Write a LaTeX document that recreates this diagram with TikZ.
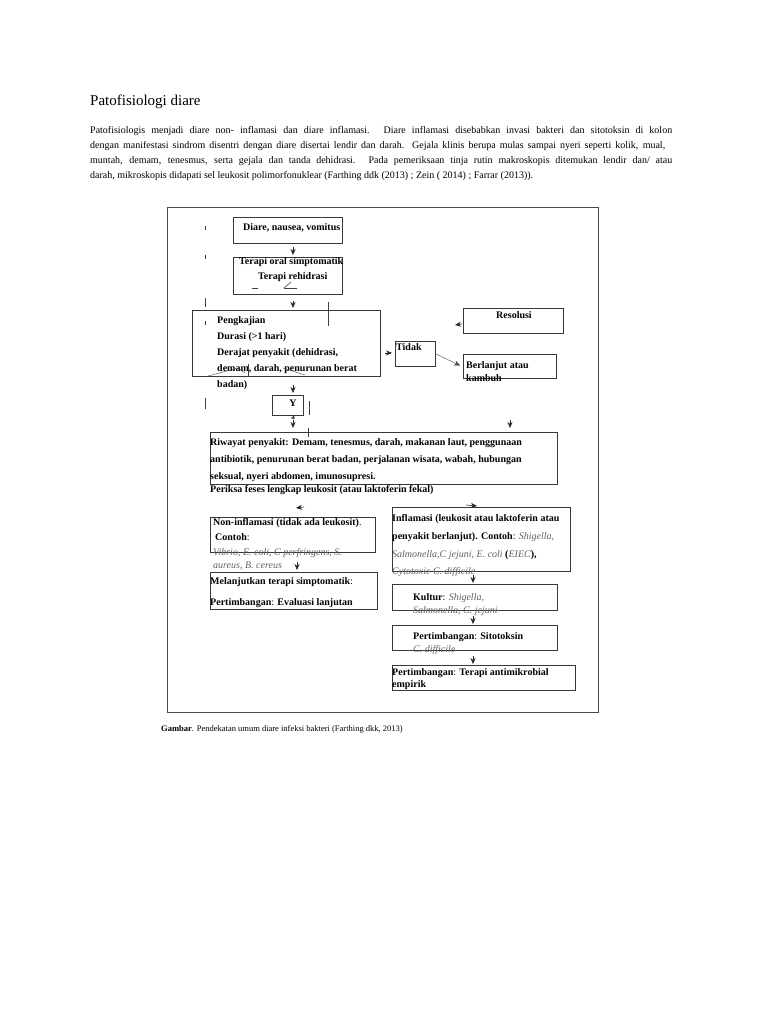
\documentclass[tikz,border=0pt]{standalone}
\usepackage{fontspec}
\setmainfont{Liberation Serif}
\usetikzlibrary{calc,arrows.meta}
\newcommand{\gi}[1]{{\color{black!62}\mdseries\itshape #1}}
\newcommand{\rg}[1]{{\mdseries #1}}
\tikzset{
  box/.style={draw=black!78, line width=0.9pt, inner sep=0pt, anchor=north west, fill=none},
  tx/.style={anchor=west, inner sep=0pt, font=\fontsize{10}{12}\selectfont\bfseries},
  ptx/.style={anchor=west, inner sep=0pt, font=\fontsize{10}{12}\selectfont},
  arr/.style={-{Stealth[length=6pt,width=5pt]}, line width=0.6pt, draw=black!85},
  thin/.style={line width=0.6pt, draw=black!75},
  frame/.style={draw=black!70, line width=0.8pt}
}
\begin{document}
\begin{tikzpicture}[x=1pt,y=-1pt]
\useasboundingbox[fill=white] (0,0) rectangle (768,1024);

% header and paragraph
\node[anchor=west, inner sep=0pt, font=\fontsize{15}{17}\selectfont] (title) at (90,102) {Patofisiologi diare};
\node[ptx] (p1) at (90,131) {\makebox[582pt][s]{Patofisiologis menjadi diare non- inflamasi dan diare inflamasi. Diare inflamasi disebabkan invasi bakteri dan sitotoksin di kolon}};
\node[ptx] (p2) at (90,146) {\makebox[575pt][s]{dengan manifestasi sindrom disentri dengan diare disertai lendir dan darah. Gejala klinis berupa mulas sampai nyeri seperti kolik, mual,}};
\node[ptx] (p3) at (90,161) {\makebox[582pt][s]{muntah, demam, tenesmus, serta gejala dan tanda dehidrasi. Pada pemeriksaan tinja rutin makroskopis ditemukan lendir dan/ atau}};
\node[ptx] (p4) at (90,176) {darah, mikroskopis didapati sel leukosit polimorfonuklear (Farthing ddk (2013) ; Zein ( 2014) ; Farrar (2013)).};

% frame
\node[frame, inner sep=0pt, anchor=north west, minimum width=431pt, minimum height=505pt] (frm) at (167,207) {};

% boxes
\node[box, minimum width=109pt, minimum height=26pt] (diare) at (233,217) {};
\node[box, minimum width=109pt, minimum height=37pt] (terapi) at (233,257) {};
\node[box, minimum width=188pt, minimum height=66pt] (peng) at (192,310) {};
\node[box, minimum width=40pt, minimum height=25pt] (tidak) at (395,341) {};
\node[box, minimum width=100pt, minimum height=25pt] (resolusi) at (463,308) {};
\node[box, minimum width=93pt, minimum height=24pt] (berlanjut) at (463,354) {};
\node[box, minimum width=31pt, minimum height=20pt] (ya) at (272,395) {};
\node[box, minimum width=347pt, minimum height=52pt] (riwayat) at (210,432) {};
\node[box, minimum width=165pt, minimum height=35pt] (noninf) at (210,517) {};
\node[box, minimum width=167pt, minimum height=37pt] (lanjut) at (210,572) {};
\node[box, minimum width=178pt, minimum height=64pt] (inflam) at (392,507) {};
\node[box, minimum width=165pt, minimum height=26pt] (kultur) at (392,584) {};
\node[box, minimum width=165pt, minimum height=25pt] (sito) at (392,625) {};
\node[box, minimum width=183pt, minimum height=25pt] (antimik) at (392,665) {};

% texts
\node[tx] (t1) at (243,228) {Diare, nausea, vomitus};
\node[tx] (t2a) at (239,262) {Terapi oral simptomatik};
\node[tx] (t2b) at (258,277) {Terapi rehidrasi};
\node[tx] (t3a) at (217,321) {Pengkajian};
\node[tx] (t3b) at (217,337) {Durasi (>1 hari)};
\node[tx] (t3c) at (217,353) {Derajat penyakit (dehidrasi,};
\node[tx] (t3d) at (217,369) {demam, darah, penurunan berat};
\node[tx] (t3e) at (217,385) {badan)};
\node[tx] (t4) at (396,347) {Tidak};
\node[tx] (t5) at (496,315) {Resolusi};
\node[tx] (t6a) at (466,366) {Berlanjut atau};
\node[tx] (t6b) at (466,378) {kambuh};
\node[tx, anchor=center] (t7a) at (293,403) {Y};
\node[tx, anchor=center, font=\fontsize{7}{8}\selectfont\bfseries] (t7b) at (293,418) {a};
\node[tx] (t8a) at (210,443) {Riwayat penyakit: Demam, tenesmus, darah, makanan laut, penggunaan};
\node[tx] (t8b) at (210,460) {antibiotik, penurunan berat badan, perjalanan wisata, wabah, hubungan};
\node[tx] (t8c) at (210,477) {seksual, nyeri abdomen, imunosupresi.};
\node[tx] (t8d) at (210,490) {Periksa feses lengkap leukosit (atau laktoferin fekal)};
\node[tx] (t9a) at (213,523) {Non-inflamasi (tidak ada leukosit)\rg{.}};
\node[tx] (t9b) at (215,537) {Contoh\rg{:}};
\node[tx] (t9c) at (213,553) {\gi{Vibrio, E. coli, C perfringens, S.}};
\node[tx] (t9d) at (213,566) {\gi{aureus, B. cereus}};
\node[tx] (t10a) at (210,582) {Melanjutkan terapi simptomatik\rg{:}};
\node[tx] (t10b) at (210,603) {Pertimbangan\rg{:} Evaluasi lanjutan};
\node[tx] (t11a) at (392,519) {Inflamasi (leukosit atau laktoferin atau};
\node[tx] (t11b) at (392,537) {penyakit berlanjut). Contoh\rg{:} \gi{Shigella,}};
\node[tx] (t11c) at (392,555) {\gi{Salmonella,C jejuni, E. coli} (\gi{EIEC}),};
\node[tx] (t11d) at (392,572) {\gi{Cytotoxic C. difficile}};
\node[tx] (t12a) at (413,598) {Kultur\rg{:} \gi{Shigella,}};
\node[tx] (t12b) at (413,611) {\gi{Salmonella, C. jejuni}};
\node[tx] (t13a) at (413,637) {Pertimbangan\rg{:} Sitotoksin};
\node[tx] (t13b) at (413,650) {\gi{C. difficile}};
\node[tx] (t14a) at (392,673) {Pertimbangan\rg{:} Terapi antimikrobial};
\node[tx] (t14b) at (392,685) {empirik};

% caption
\node[anchor=west, inner sep=0pt, font=\fontsize{8.5}{10}\selectfont] (cap) at (161,729) {\textbf{Gambar}. Pendekatan umum diare infeksi bakteri (Farthing dkk, 2013)};

% arrows
\draw[arr] ($(terapi.north west)+(60,-10)$) -- ($(terapi.north west)+(60,-2)$);
\draw[arr] ($(peng.north west)+(101,-9)$) -- ($(peng.north west)+(101,-2)$);
\draw[arr] ($(ya.north west)+(21,-10)$) -- ($(ya.north west)+(21,-2)$);
\draw[arr] ($(riwayat.north west)+(83,-12)$) -- ($(riwayat.north west)+(83,-4)$);
\draw[arr] ($(riwayat.north west)+(300,-12)$) -- ($(riwayat.north west)+(300,-4)$);
\draw[arr] ($(tidak.west)+(-10,-1)$) -- ($(tidak.west)+(-3,-1)$);
\draw[arr, line width=0.4pt, draw=black!70, shorten >=2pt] (tidak.east) -- ($(berlanjut.west)+(-1,0)$);
\draw[arr] ($(resolusi.west)+(-1,3)$) -- ($(resolusi.west)+(-8,4)$);
\draw[arr] ($(noninf.north west)+(94,-10)$) -- ($(noninf.north west)+(86,-9)$);
\draw[arr] ($(inflam.north west)+(74,-2)$) -- ($(inflam.north west)+(85,-1)$);
\draw[arr] ($(lanjut.north west)+(87,-10)$) -- ($(lanjut.north west)+(87,-2)$);
\draw[arr] ($(kultur.north west)+(81,-9)$) -- ($(kultur.north west)+(81,-1)$);
\draw[arr] ($(sito.north west)+(81,-9)$) -- ($(sito.north west)+(81,-1)$);
\draw[arr] ($(antimik.north west)+(81,-9)$) -- ($(antimik.north west)+(81,-1)$);

% stray marks
\draw[thin] (205,226) -- (205,230);
\draw[thin] (205,255) -- (205,259);
\draw[thin] (205,298) -- (205,307);
\draw[thin] (205,321) -- (205,325);
\draw[thin] (205,398) -- (205,409);
\draw[thin] (328,302) -- (328,326);
\draw[thin] (309,401) -- (309,415);
\draw[thin] (308,428) -- (308,437);
\draw[thin] (252,288) -- (258,288);
\draw[thin] (284,288) -- (297,288);
\draw[thin] (284,288) -- (291,282);
\draw[thin, line width=0.4pt] (208,376) -- (238,368) -- (245,373);
\draw[thin] (248,364) -- (248,376);
\draw[thin, line width=0.4pt] (283,368) -- (305,375);
\end{tikzpicture}
\end{document}
